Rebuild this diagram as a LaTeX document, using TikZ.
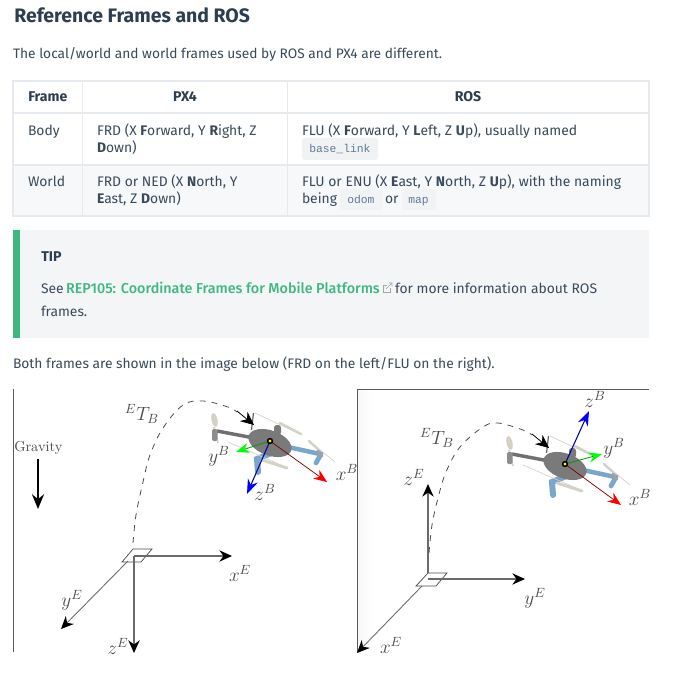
\documentclass[tikz,border=0pt]{standalone}
\usepackage{fontspec}
\usepackage{amsmath}
\setmainfont{Fira Sans}
\newfontfamily\codefont{Liberation Mono}
\newfontfamily\figfont{Latin Modern Roman}
\newfontfamily\linkfont{Fira Sans Medium}
\usetikzlibrary{arrows.meta}
\definecolor{ink}{HTML}{2C3E50}
\definecolor{body}{HTML}{3A4A5A}
\definecolor{rule}{HTML}{E6E9ED}
\definecolor{stripe}{HTML}{F6F8FA}
\definecolor{tipbg}{HTML}{F3F5F7}
\definecolor{vgreen}{HTML}{3EB880}
\definecolor{codebg}{HTML}{F1F2F3}
\definecolor{codefg}{HTML}{5F7A99}
\definecolor{axis}{HTML}{6A6A6A}
\definecolor{dronegray}{HTML}{7A7A7A}
\definecolor{dronearm}{HTML}{707070}
\definecolor{droneblue}{HTML}{7AA6CC}
\definecolor{prop}{HTML}{D4D2C6}
\tikzset{
  x=0.75pt,y=-0.75pt,
  txt/.style={anchor=base west,inner sep=0pt,outer sep=0pt,text=body,font=\fontsize{10.4}{12}\selectfont},
  cell/.style={txt,text=body},
  head/.style={anchor=base,inner sep=0pt,text=ink,font=\fontsize{10.6}{12}\selectfont\bfseries},
  headl/.style={head,anchor=base west},
  code/.style={anchor=base west,inner sep=0pt,text=codefg,font=\fontsize{8.5}{10}\codefont},
  codebox/.style={fill=codebg,rounded corners=2pt},
  gridline/.style={draw=rule,line width=0.8pt},
  fig/.style={inner sep=0pt,text=black!70,font=\fontsize{14.5}{16}\selectfont},
  axisline/.style={draw=axis,line width=0.85pt,-{Stealth[length=9.5pt,width=8.5pt,color=black]}},
  plate/.style={draw=black!70,line width=0.55pt},
  traj/.style={draw=black!70,line width=0.6pt,dash pattern=on 4.5pt off 4.5pt},
  framel/.style={draw=black!65,line width=0.8pt},
  redax/.style={draw=red!50!black,line width=0.55pt,-{Stealth[length=10pt,width=8pt,color=red]}},
  greenax/.style={draw=green!60!black,line width=0.6pt,-{Stealth[length=10pt,width=7.5pt,color=green]}},
  blueax/.style={draw=blue!65!black,line width=0.8pt,-{Stealth[length=11pt,width=8pt,color=blue]}},
  trajhead/.style={black,line width=0.6pt,-{Stealth[length=10pt,width=9pt]}},
}
\newcommand{\dronebody}{%
  \draw[prop,line width=0.5pt] (255,413) -- (302,435);
  \draw[prop,line width=1.8pt,line cap=round] (280,423) -- (301,434);
  \draw[prop,line width=0.5pt] (308,440) -- (335,462);
  \draw[prop,line width=1.8pt,line cap=round] (309,441) -- (321,452);
  \draw[droneblue,line width=3.4pt] (288,447) -- (320,454);
  \draw[droneblue,line width=3.6pt,line cap=round] (321,454) -- (316,463);
  \draw[dronegray!70,line width=2pt,line cap=round] (318,451) -- (322,456);
  \draw[droneblue,line width=4.5pt,line cap=round] (276,451) -- (257,459) -- (258,472);
  \draw[dronearm,line width=2.6pt] (217,431) -- (254,438);
  \fill[prop,rotate around={12:(214.5,420)}] (214.5,420) ellipse [x radius=3,y radius=7];
  \draw[prop,line width=1.3pt] (214,427) -- (218,443);
  \fill[dronearm!80,rounded corners=1.5pt] (212,429) rectangle (217.5,441);
  \fill[dronegray,rotate around={-20:(270,443)}] (270,443) ellipse [x radius=22.5,y radius=12.5];
  \fill[dronegray,rounded corners=2pt] (274,425) rectangle (281,435);
  \draw[black!60,line width=0.9pt] (253.5,413) -- (251.5,430);
  \draw[prop,line width=0.5pt] (228,442) -- (288,468);
  \draw[prop,line width=2.2pt,line cap=round] (262,460) -- (287,468);
}
\begin{document}
\begin{tikzpicture}
\useasboundingbox (0,0) rectangle (689,681);
\fill[white] (0,0) rectangle (689,681);

% heading
\node[headl,font=\fontsize{14.6}{17}\selectfont\bfseries] (title) at (14,23) {Reference Frames and ROS};
\node[txt,font=\fontsize{10.3}{12}\selectfont] (intro) at (13,59) {The local/world and world frames used by ROS and PX4 are different.};

% table
\fill[stripe] (13,165) rectangle (649,216);
\node[codebox,minimum width=57pt,minimum height=16.5pt,inner sep=0pt] (bl) at (340,149) {};
\node[codebox,fill=codebg!80!stripe,minimum width=31.5pt,minimum height=16pt,inner sep=0pt] (od) at (361,199.5) {};
\node[codebox,fill=codebg!80!stripe,minimum width=25.5pt,minimum height=16pt,inner sep=0pt] (mp) at (419,199.5) {};
\draw[gridline] (13,81) rectangle (649,216);
\draw[gridline] (82.5,81) -- (82.5,216);
\draw[gridline] (287.5,81) -- (287.5,216);
\draw[gridline,line width=1.3pt] (13,113) -- (649,113);
\draw[gridline] (13,165) -- (649,165);

\node[headl] (h1) at (28,102) {Frame};
\node[head] (h2) at (185,102) {PX4};
\node[head] (h3) at (468,102) {ROS};
\node[cell] (c1) at (28,136) {Body};
\node[cell] (c2) at (97,136) {FRD (X \textbf{F}orward, Y \textbf{R}ight, Z};
\node[cell] (c2b) at (97,152.5) {\textbf{D}own)};
\node[cell,font=\fontsize{10.45}{12}\selectfont] (c3) at (302,136) {FLU (X \textbf{F}orward, Y \textbf{L}eft, Z \textbf{U}p), usually named};
\node[code] (c3b) at (309,152.5) {base\_link};
\node[cell] (c4) at (28,186.5) {World};
\node[cell] (c5) at (97,186.5) {FRD or NED (X \textbf{N}orth, Y};
\node[cell] (c5b) at (97,203.5) {\textbf{E}ast, Z \textbf{D}own)};
\node[cell,font=\fontsize{10.45}{12}\selectfont] (c6) at (302,186.5) {FLU or ENU (X \textbf{E}ast, Y \textbf{N}orth, Z \textbf{U}p), with the naming};
\node[cell] (c6b) at (302,203.5) {being};
\node[code] (c6c) at (347,203.5) {odom};
\node[cell] (c6d) at (385,203.5) {or};
\node[code] (c6e) at (408,203.5) {map};

% tip
\fill[tipbg] (13,230) rectangle (649,338);
\fill[vgreen] (13,230) rectangle (20,338);
\node[headl] (tiph) at (41,261) {TIP};
\node[txt] (tip1) at (41,293) {See};
\node[txt,text=vgreen,font=\fontsize{10.75}{12}\linkfont] (tip2) at (66,293) {REP105: Coordinate Frames for Mobile Platforms};
\draw[black!35,line width=0.5pt] (387,285) -- (383,285) -- (383,292) -- (390,292) -- (390,288);
\draw[black!35,line width=0.5pt] (386,289) -- (392,283) (389,283) -- (392,283) -- (392,286);
\node[txt] (tip3) at (395,293) {for more information about ROS};
\node[txt] (tip4) at (41,316) {frames.};
\node[txt,font=\fontsize{10.35}{12}\selectfont] (both) at (13,368) {Both frames are shown in the image below (FRD on the left/FLU on the right).};

% figure frames
\shade[left color=black!3,right color=white] (357.5,389.5) rectangle (372,652);
\coordinate (ltop) at (13.5,389);
\coordinate (lbot) at (13.5,652);
\draw[framel] (ltop) -- (lbot);
\coordinate (rtop) at (649,389.5);
\coordinate (rcor) at (357.5,389.5);
\coordinate (rbot) at (357.5,652);
\draw[framel] (rtop) -- (rcor) -- (rbot);

% left figure
\node[fig,anchor=base west,font=\fontsize{10.8}{12}\figfont] (grav) at (14,451) {Gravity};
\coordinate (g0) at (38,459);
\coordinate (g1) at (38,509);
\draw[line width=1.7pt,-{Stealth[length=11pt,width=9pt]}] (g0) -- (g1);
\draw[plate] (122,562) -- (133,549) -- (152,549) -- (141,562) -- cycle;
\coordinate (lo) at (134,556);
\coordinate (lxe) at (232,556);
\coordinate (lye) at (61,629);
\coordinate (lze) at (134,653);
\coordinate (lyes) at (128,561);
\draw[axisline] (lo) -- (lxe);
\draw[axisline,line width=1.1pt] (lo) -- (lze);
\draw[axisline,line width=0.65pt] (lyes) -- (lye);
\draw[traj] plot[smooth,tension=0.6] coordinates {(133,543) (136,515) (143,482) (150,455) (163,428) (183,405) (203,401) (228,407) (237,412)};
\coordinate (larrs) at (237,411);
\coordinate (larre) at (254,425);
\dronebody
\draw[trajhead] (larrs) -- (larre);
\coordinate (ldc) at (270,441);
\coordinate (lxb) at (327,482);
\coordinate (lyb) at (236,452);
\coordinate (lzb) at (247,494);
\draw[redax] (ldc) -- (lxb);
\draw[greenax] (ldc) -- (lyb);
\draw[blueax] (ldc) -- (lzb);
\fill[black] (ldc) circle (3.2);
\fill[yellow] (ldc) circle (1.6);
\node[fig] (lt) at (142,414) {$^{E}T_{B}$};
\node[fig] (lyel) at (72,600) {$y^{E}$};
\node[fig] (lzel) at (118,646) {$z^{E}$};
\node[fig] (lxel) at (240,573) {$x^{E}$};
\node[fig] (lybl) at (219,456) {$y^{B}$};
\node[fig] (lzbl) at (265,492) {$z^{B}$};
\node[fig] (lxbl) at (347,472) {$x^{B}$};

% right figure
\draw[plate] (416,586) -- (428,573) -- (447,573) -- (436,586) -- cycle;
\coordinate (ro) at (428,579);
\coordinate (rz0) at (428,573);
\coordinate (rye) at (525,579);
\coordinate (rze) at (428,484);
\coordinate (rxes) at (422,586);
\coordinate (rxe) at (357,653);
\draw[axisline] (ro) -- (rye);
\draw[axisline] (rz0) -- (rze);
\draw[axisline,line width=0.65pt] (rxes) -- (rxe);
\draw[traj] plot[smooth,tension=0.6] coordinates {(429,553) (432,525) (438,498) (446,472) (460,447) (483,427) (498,423) (523,430) (532,435)};
\coordinate (rarrs) at (532,434);
\coordinate (rarre) at (549,448);
\begin{scope}[shift={(295,23)}]
\dronebody
\end{scope}
\draw[trajhead] (rarrs) -- (rarre);
\coordinate (rdc) at (565,464);
\coordinate (rxb) at (621,505);
\coordinate (ryb) at (602,454);
\coordinate (rzb) at (589,411);
\draw[redax] (rdc) -- (rxb);
\draw[greenax] (rdc) -- (ryb);
\draw[blueax] (rdc) -- (rzb);
\fill[black] (rdc) circle (3.2);
\fill[yellow] (rdc) circle (1.6);
\node[fig] (rt) at (437,438) {$^{E}T_{B}$};
\node[fig] (rzel) at (414,477) {$z^{E}$};
\node[fig] (ryel) at (535,598) {$y^{E}$};
\node[fig] (rxel) at (391,645) {$x^{E}$};
\node[fig] (rybl) at (614,448) {$y^{B}$};
\node[fig] (rzbl) at (595,399) {$z^{B}$};
\node[fig] (rxbl) at (640,497) {$x^{B}$};
\end{tikzpicture}
\end{document}
